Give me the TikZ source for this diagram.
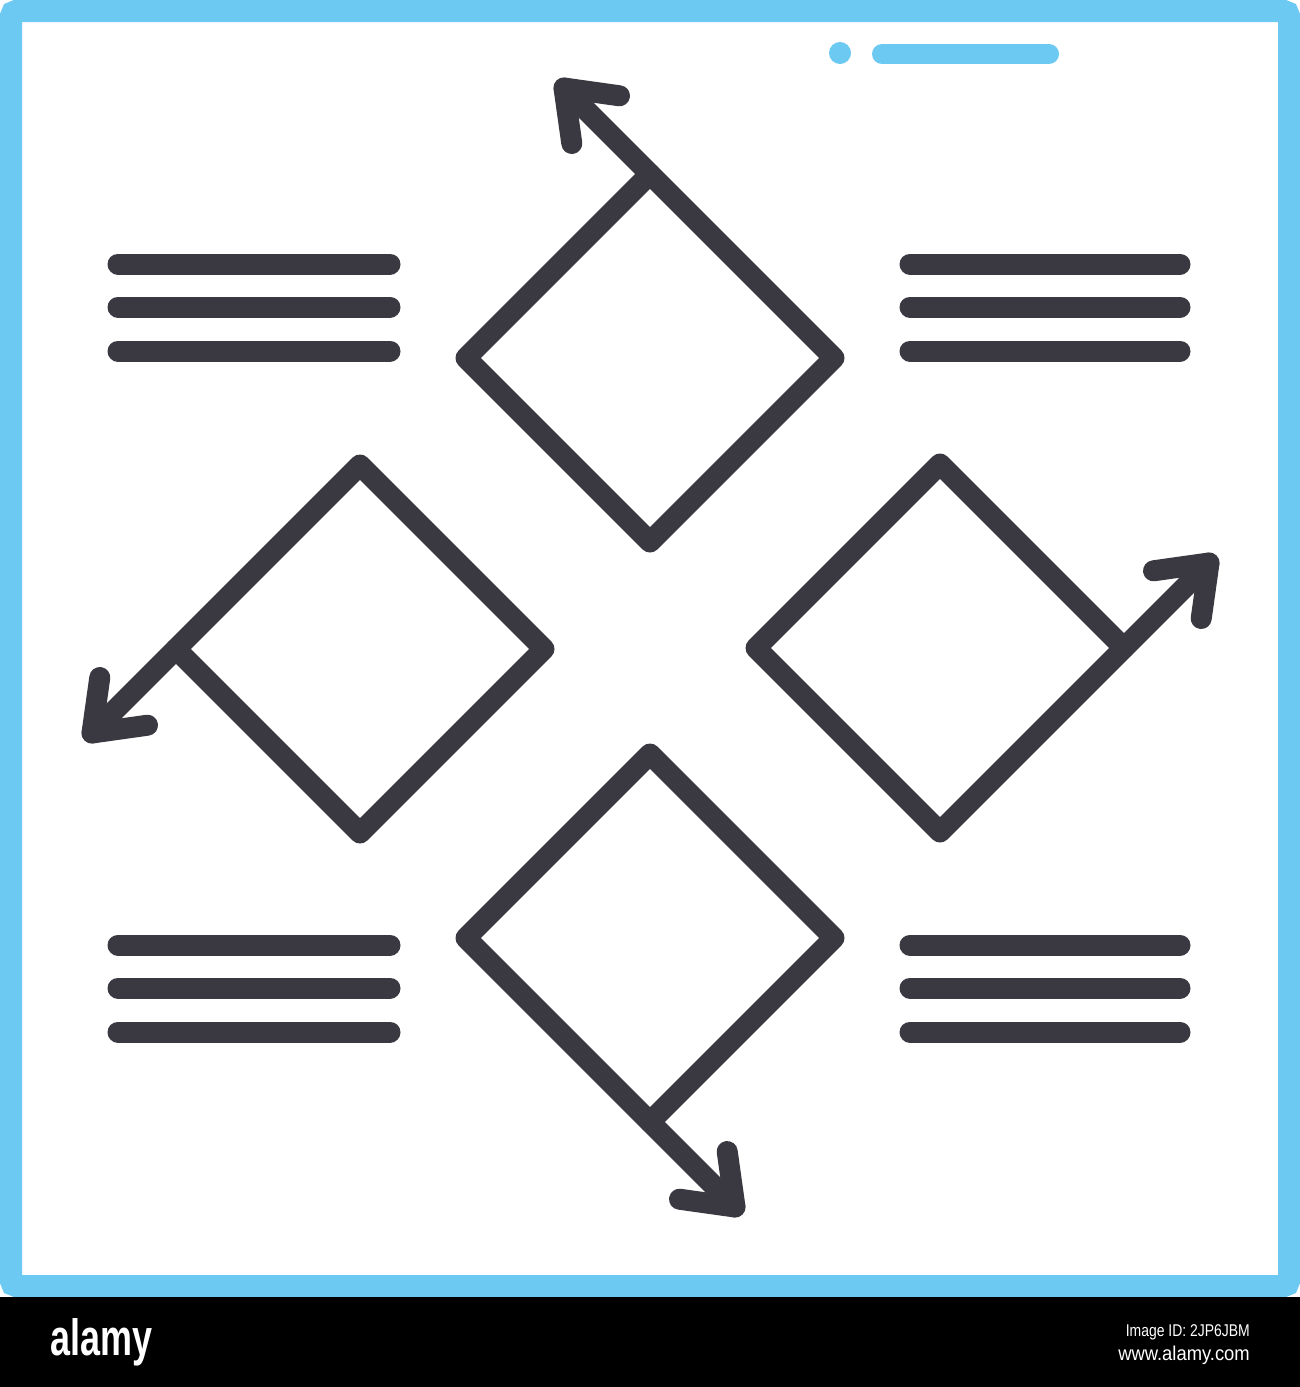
\documentclass[tikz,border=0pt]{standalone}
\usepackage{fontspec}
\setmainfont{Liberation Sans}
\definecolor{ink}{HTML}{3A3942}
\definecolor{sky}{HTML}{6CC9F2}
\begin{document}
\begin{tikzpicture}[x=1pt,y=-1pt,
  icon/.style={draw=ink,line width=21pt,line cap=round,line join=round},
  txtline/.style={draw=ink,line width=21pt,line cap=round},
  framebox/.style={draw=sky,line width=22pt,rounded corners=5pt},
  wm/.style={text=white,inner sep=0pt}]
\useasboundingbox (0,0) rectangle (1300,1387);
\fill[white] (0,0) rectangle (1300,1297);
% frame
\draw[framebox] (11,11) rectangle (1289,1286);
\fill[sky] (840,53) circle (11pt);
\coordinate (bar1) at (882,54);
\coordinate (bar2) at (1049,54);
\draw[draw=sky,line width=20pt,line cap=round] (bar1) -- (bar2);
% top diamond
\coordinate (Tn) at (650,174); \coordinate (Te) at (834,358);
\coordinate (Ts) at (650,542); \coordinate (Tw) at (466,358);
\coordinate (Ttip) at (564,88);
\coordinate (Tb1) at (619.5,95.8); \coordinate (Tb2) at (571.8,143.5);
\draw[icon] (Tw) -- (Tn) -- (Te) -- (Ts) -- cycle;
\draw[icon] (Tn) -- (Ttip);
\draw[icon] (Tb1) -- (Ttip) -- (Tb2);
% left diamond
\coordinate (Ln) at (360,465); \coordinate (Le) at (544,649);
\coordinate (Ls) at (360,833); \coordinate (Lw) at (176,649);
\coordinate (Ltip) at (92,733);
\coordinate (Lb1) at (147.5,725.2); \coordinate (Lb2) at (99.8,677.5);
\draw[icon] (Lw) -- (Ln) -- (Le) -- (Ls) -- cycle;
\draw[icon] (Lw) -- (Ltip);
\draw[icon] (Lb1) -- (Ltip) -- (Lb2);
% right diamond
\coordinate (Rn) at (940,464); \coordinate (Re) at (1124,648);
\coordinate (Rs) at (940,832); \coordinate (Rw) at (756,648);
\coordinate (Rtip) at (1209,563);
\coordinate (Rb1) at (1201.2,618.5); \coordinate (Rb2) at (1153.5,570.8);
\draw[icon] (Rw) -- (Rn) -- (Re) -- (Rs) -- cycle;
\draw[icon] (Re) -- (Rtip);
\draw[icon] (Rb1) -- (Rtip) -- (Rb2);
% bottom diamond
\coordinate (Bn) at (650,754); \coordinate (Be) at (834,938);
\coordinate (Bs) at (650,1122); \coordinate (Bw) at (466,938);
\coordinate (Btip) at (735,1207);
\coordinate (Bb1) at (679.5,1199.2); \coordinate (Bb2) at (727.2,1151.5);
\draw[icon] (Bw) -- (Bn) -- (Be) -- (Bs) -- cycle;
\draw[icon] (Bs) -- (Btip);
\draw[icon] (Bb1) -- (Btip) -- (Bb2);
% text lines
\foreach \y in {264,307,351,945,988,1032}{
  \draw[txtline] (118,\y) -- (390,\y);
  \draw[txtline] (910,\y) -- (1180,\y);
}
% watermark bar
\fill[black] (0,1297) rectangle (1300,1387);
\node[wm,anchor=base west] (logo) at (50,1355)
  {\scalebox{0.705}[1]{\fontsize{51}{51}\selectfont\bfseries alamy}};
\node[wm,anchor=base east] (imgid) at (1250,1336)
  {\scalebox{0.82}[1]{\fontsize{17}{17}\selectfont Image ID: 2JP6JBM}};
\node[wm,anchor=base east] (site) at (1250,1360)
  {\scalebox{0.92}[1]{\fontsize{20}{20}\selectfont www.alamy.com}};
\end{tikzpicture}
\end{document}
